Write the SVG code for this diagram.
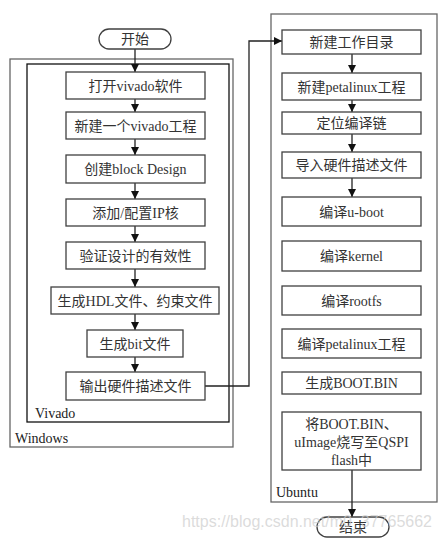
<svg xmlns="http://www.w3.org/2000/svg" width="438" height="538" viewBox="0 0 438 538">
<defs>
<style>
.box{fill:#fff;stroke:#404040;stroke-width:1.3}
.term{fill:#fff;stroke:#404040;stroke-width:1.3}
.t{font-family:"Liberation Serif","Noto Sans CJK SC",serif;font-size:14px;fill:#333;text-anchor:middle}
.lbl{font-family:"Liberation Serif","Noto Sans CJK SC",serif;font-size:14px;fill:#222}
.ln{fill:none;stroke:#222;stroke-width:1.3}
</style>
<marker id="ah" viewBox="0 0 10 10" refX="10" refY="5" markerWidth="8" markerHeight="8" markerUnits="userSpaceOnUse" orient="auto">
<path d="M0,0 L10,5 L0,10 Z" fill="#111"/>
</marker>
</defs>
<rect width="438" height="538" fill="#fff"/>
<g id="windows"><rect x="10" y="59" width="223" height="388" fill="none" stroke="#666" stroke-width="1.3"/><text class="lbl" x="15" y="443">Windows</text></g>
<g id="vivado"><rect x="27" y="64" width="202" height="358" fill="none" stroke="#111" stroke-width="1.3"/><text class="lbl" x="35" y="418">Vivado</text></g>
<g id="ubuntu"><rect x="271" y="14" width="166" height="488" fill="none" stroke="#666" stroke-width="1.3"/><text class="lbl" x="276" y="497">Ubuntu</text></g>
<g id="connectors">
<path class="ln" d="M135,49 V72" marker-end="url(#ah)"/>
<path class="ln" d="M135,99 V112" marker-end="url(#ah)"/>
<path class="ln" d="M135,139 V155" marker-end="url(#ah)"/>
<path class="ln" d="M135,183 V199" marker-end="url(#ah)"/>
<path class="ln" d="M135,226 V242" marker-end="url(#ah)"/>
<path class="ln" d="M135,269 V287" marker-end="url(#ah)"/>
<path class="ln" d="M135,314 V330" marker-end="url(#ah)"/>
<path class="ln" d="M135,357 V372" marker-end="url(#ah)"/>
<path class="ln" d="M205,386 H249 V41 H282" marker-end="url(#ah)"/>
<path class="ln" d="M352,54 V73" marker-end="url(#ah)"/>
<path class="ln" d="M352,100 V112" marker-end="url(#ah)"/>
<path class="ln" d="M352,134 V152" marker-end="url(#ah)"/>
<path class="ln" d="M352,178 V197" marker-end="url(#ah)"/>
<path class="ln" d="M352,470 V517" marker-end="url(#ah)"/>
</g>
<g id="start"><rect class="term" x="99" y="29" width="72" height="20" rx="10"/><text class="t" x="135" y="44">开始</text></g>
<g id="n1"><rect class="box" x="66" y="72" width="139" height="27"/><text class="t" x="135.5" y="90.5">打开vivado软件</text></g>
<g id="n2"><rect class="box" x="66" y="112" width="139" height="27"/><text class="t" x="135.5" y="130.5">新建一个vivado工程</text></g>
<g id="n3"><rect class="box" x="66" y="155" width="139" height="28"/><text class="t" x="135.5" y="174">创建block Design</text></g>
<g id="n4"><rect class="box" x="66" y="199" width="139" height="27"/><text class="t" x="135.5" y="217.5">添加/配置IP核</text></g>
<g id="n5"><rect class="box" x="66" y="242" width="139" height="27"/><text class="t" x="135.5" y="260.5">验证设计的有效性</text></g>
<g id="n6"><rect class="box" x="51" y="287" width="168" height="27"/><text class="t" x="135" y="305.5">生成HDL文件、约束文件</text></g>
<g id="n7"><rect class="box" x="87" y="330" width="96" height="27"/><text class="t" x="135" y="348.5">生成bit文件</text></g>
<g id="n8"><rect class="box" x="66" y="372" width="139" height="28"/><text class="t" x="135.5" y="391">输出硬件描述文件</text></g>
<g id="u1"><rect class="box" x="282" y="30" width="139" height="24"/><text class="t" x="351.5" y="47">新建工作目录</text></g>
<g id="u2"><rect class="box" x="282" y="73" width="139" height="27"/><text class="t" x="351.5" y="91.5">新建petalinux工程</text></g>
<g id="u3"><rect class="box" x="282" y="112" width="139" height="22"/><text class="t" x="351.5" y="128">定位编译链</text></g>
<g id="u4"><rect class="box" x="282" y="152" width="139" height="26"/><text class="t" x="351.5" y="170">导入硬件描述文件</text></g>
<g id="u5"><rect class="box" x="282" y="197" width="139" height="29"/><text class="t" x="351.5" y="216.5">编译u-boot</text></g>
<g id="u6"><rect class="box" x="282" y="241" width="139" height="30"/><text class="t" x="351.5" y="261">编译kernel</text></g>
<g id="u7"><rect class="box" x="282" y="286" width="139" height="29"/><text class="t" x="351.5" y="305.5">编译rootfs</text></g>
<g id="u8"><rect class="box" x="282" y="329" width="139" height="29"/><text class="t" x="351.5" y="348.5">编译petalinux工程</text></g>
<g id="u9"><rect class="box" x="282" y="372" width="139" height="22"/><text class="t" x="351.5" y="388">生成BOOT.BIN</text></g>
<g id="u10"><rect class="box" x="282" y="412" width="139" height="58"/><text class="t" x="351.5" y="429">将BOOT.BIN、</text><text class="t" x="351.5" y="447">uImage烧写至QSPI</text><text class="t" x="351.5" y="465">flash中</text></g>
<g id="end"><rect class="term" x="317" y="517" width="72" height="20" rx="10"/><text class="t" x="353" y="532">结束</text></g>
<text x="182" y="527" font-family="Liberation Sans,Arial,sans-serif" font-size="16" fill="#ccc" fill-opacity="0.7" textLength="250">https://blog.csdn.net/m0_37765662</text>
</svg>
